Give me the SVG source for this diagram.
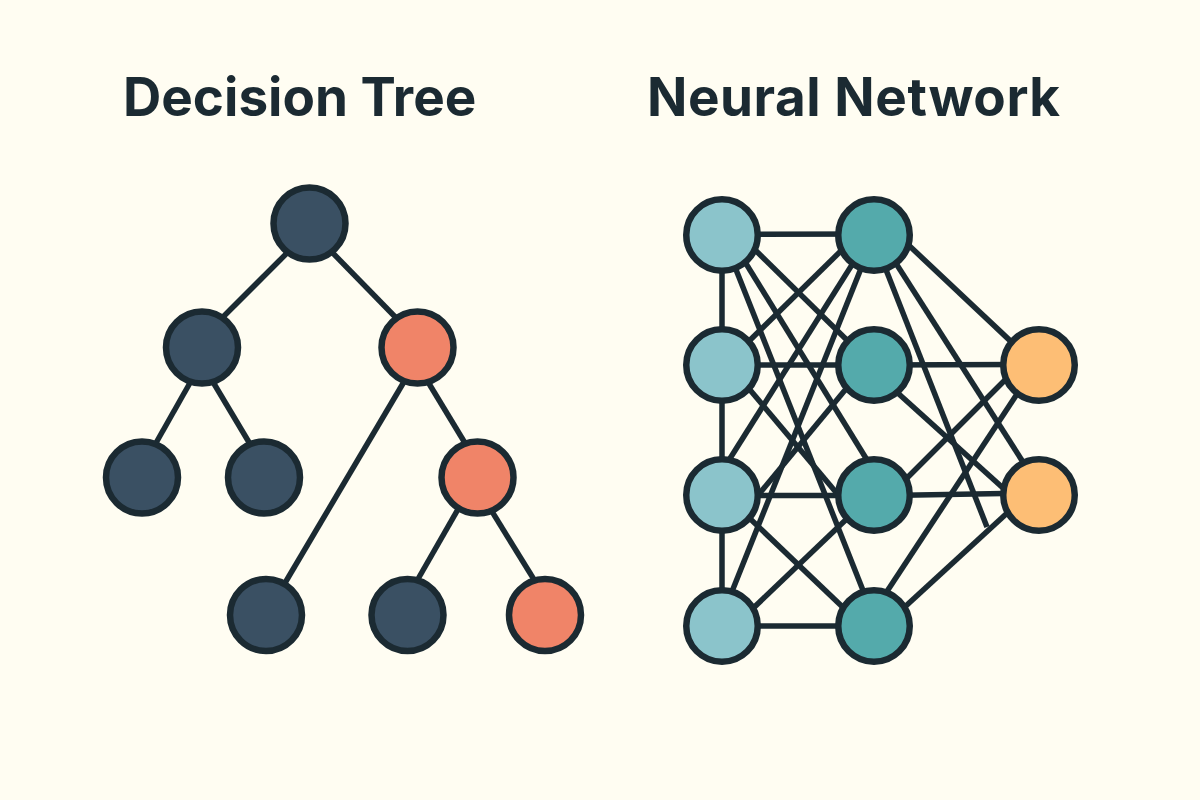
<svg xmlns="http://www.w3.org/2000/svg" width="1200" height="800" viewBox="0 0 1200 800">
<style>
.t{font-family:Inter,"Liberation Sans",sans-serif;font-weight:700;font-size:53px;fill:#1B2A32}
.e line{stroke:#1B2A32;stroke-width:5.5;stroke-linecap:butt}
circle{stroke:#1B2A32;stroke-width:6.5}
.d{fill:#3A5063}.c{fill:#F08468}.a{fill:#8BC4CB}.b{fill:#54AAAB}.o{fill:#FDBE75}
</style>
<rect width="1200" height="800" fill="#FFFDF2"/>
<text class="t" x="123" y="116">Decision Tree</text>
<text class="t" x="647" y="116" letter-spacing="0.55">Neural Network</text>
<g id="connectors" class="e">
<line x1="295" y1="245" x2="215" y2="325"/>
<line x1="325" y1="245" x2="405" y2="327"/>
<line x1="195" y1="374" x2="152" y2="450"/>
<line x1="210" y1="377" x2="253" y2="449"/>
<line x1="408" y1="375" x2="282" y2="588"/>
<line x1="425" y1="377" x2="468" y2="448"/>
<line x1="461" y1="504" x2="414" y2="586"/>
<line x1="488" y1="505" x2="538" y2="586"/>
<line x1="722" y1="234.5" x2="874" y2="234"/>
<line x1="722" y1="365" x2="874" y2="365"/>
<line x1="722" y1="495.5" x2="874" y2="495.5"/>
<line x1="722" y1="626" x2="874" y2="626"/>
<line x1="722" y1="235" x2="722" y2="626"/>
<line x1="745" y1="240" x2="855" y2="348"/>
<line x1="737" y1="249" x2="872" y2="468"/>
<line x1="731" y1="257" x2="868" y2="603"/>
<line x1="851" y1="241" x2="741" y2="349"/>
<line x1="860" y1="252" x2="724" y2="468"/>
<line x1="866" y1="256" x2="727" y2="604"/>
<line x1="740" y1="378" x2="845" y2="503"/>
<line x1="855" y1="378" x2="750" y2="505"/>
<line x1="742" y1="511" x2="851" y2="615"/>
<line x1="745" y1="616" x2="855" y2="511"/>
<line x1="900" y1="237" x2="1020" y2="350"/>
<line x1="890" y1="254" x2="1030" y2="473"/>
<line x1="881" y1="257" x2="987" y2="527"/>
<line x1="874" y1="365" x2="1039" y2="364.5"/>
<line x1="890" y1="386" x2="1013" y2="497"/>
<line x1="898" y1="487" x2="1015" y2="370"/>
<line x1="874" y1="495.7" x2="1039" y2="493"/>
<line x1="880" y1="602" x2="1023" y2="385"/>
<line x1="896" y1="615" x2="1017" y2="504"/>
</g>
<g id="tree-root"><circle class="d" cx="309.5" cy="223.5" r="36"/></g>
<g id="tree-l"><circle class="d" cx="202" cy="347.5" r="36"/></g>
<g id="tree-r"><circle class="c" cx="417.5" cy="347.5" r="36"/></g>
<g id="tree-ll"><circle class="d" cx="142" cy="477.5" r="36"/></g>
<g id="tree-lr"><circle class="d" cx="264" cy="477.5" r="36"/></g>
<g id="tree-rr"><circle class="c" cx="477.5" cy="477.5" r="36"/></g>
<g id="tree-rl"><circle class="d" cx="266" cy="615" r="36"/></g>
<g id="tree-rrl"><circle class="d" cx="407.5" cy="615" r="36"/></g>
<g id="tree-rrr"><circle class="c" cx="545" cy="615" r="36"/></g>
<g id="nn-a1"><circle class="a" cx="722" cy="235" r="35.75"/></g>
<g id="nn-a2"><circle class="a" cx="722" cy="365" r="35.75"/></g>
<g id="nn-a3"><circle class="a" cx="722" cy="495" r="35.75"/></g>
<g id="nn-a4"><circle class="a" cx="722" cy="626" r="35.75"/></g>
<g id="nn-b1"><circle class="b" cx="874" cy="235" r="35.75"/></g>
<g id="nn-b2"><circle class="b" cx="874" cy="365" r="35.75"/></g>
<g id="nn-b3"><circle class="b" cx="874" cy="495" r="35.75"/></g>
<g id="nn-b4"><circle class="b" cx="874" cy="626" r="35.75"/></g>
<g id="nn-o1"><circle class="o" cx="1039" cy="365" r="35.75"/></g>
<g id="nn-o2"><circle class="o" cx="1039" cy="495" r="35.75"/></g>
</svg>
